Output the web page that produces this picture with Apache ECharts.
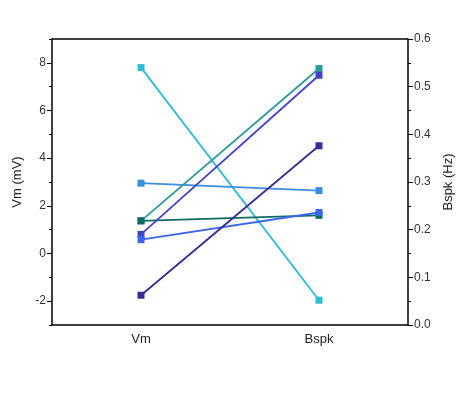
<!DOCTYPE html>
<html><head><meta charset="utf-8">
<script src="https://cdn.jsdelivr.net/npm/echarts@6/dist/echarts.min.js"></script>
<style>html,body{margin:0;padding:0;background:#fff}#c{width:474px;height:395px}</style>
</head><body><div id="c"></div>
<script>
const categories = ['Vm', 'Bspk'];
const vmValues   = [7.8, 2.95, 1.37, 1.37, 0.8, 0.58, -1.75];
const bspkValues = [0.052, 0.282, 0.538, 0.230, 0.524, 0.236, 0.376];
const colors = ['#2cbcd4', '#3a8ee0', '#2a9a9a', '#0f6b62', '#4242cc', '#3a66ee', '#3b2a9a'];
const leftTicks = [-2, 0, 2, 4, 6, 8];
const leftMin = -3, leftMax = 9, rightMin = 0, rightMax = 0.6;

// map a right-axis value onto the left axis scale (axes are aligned)
const toLeft = v => leftMin + (v - rightMin) / (rightMax - rightMin) * (leftMax - leftMin);

const font = 'Liberation Sans, Arial, sans-serif';
const chart = echarts.init(document.getElementById('c'));
chart.setOption({
  animation: false,
  grid: {left: 52, right: 66, top: 39, bottom: 70},
  xAxis: {
    type: 'category', data: categories, boundaryGap: true,
    axisLine: {onZero: false, lineStyle: {color: '#000', width: 1.5}},
    axisTick: {alignWithLabel: true, length: 4, lineStyle: {color: '#000'}},
    axisLabel: {color: '#222', fontSize: 13, fontFamily: font, margin: 8},
    splitLine: {show: false}
  },
  yAxis: [
    {
      type: 'value', min: leftMin, max: leftMax, position: 'left',
      name: 'Vm (mV)', nameLocation: 'middle', nameGap: 28,
      nameTextStyle: {color: '#222', fontSize: 13, fontFamily: font},
      axisLine: {show: true, lineStyle: {color: '#000', width: 1.5}},
      axisTick: {show: true, length: 5, customValues: leftTicks, lineStyle: {color: '#000'}},
      axisLabel: {customValues: leftTicks, color: '#333', fontSize: 12, fontFamily: font, margin: 6},
      splitLine: {show: false}
    },
    {
      type: 'value', min: rightMin, max: rightMax, interval: 0.1, position: 'right',
      name: 'Bspk (Hz)', nameLocation: 'middle', nameGap: 34, nameRotate: 90,
      nameTextStyle: {color: '#222', fontSize: 13, fontFamily: font},
      axisLine: {show: true, lineStyle: {color: '#000', width: 1.5}},
      axisTick: {show: true, length: 5, lineStyle: {color: '#000'}},
      minorTick: {show: true, splitNumber: 2, length: 3, lineStyle: {color: '#000'}},
      axisLabel: {color: '#333', fontSize: 12, fontFamily: font, margin: 6, formatter: v => v.toFixed(1)},
      splitLine: {show: false}, minorSplitLine: {show: false}
    },
    {
      type: 'value', min: leftMin, max: leftMax, interval: 1, position: 'left',
      axisLine: {show: false}, axisLabel: {show: false}, splitLine: {show: false},
      axisTick: {show: true, length: 3, lineStyle: {color: '#000'}}
    }
  ],
  graphic: [{
    type: 'line', shape: {x1: 52, y1: 39, x2: 408, y2: 39},
    style: {stroke: '#000', lineWidth: 1.5}, z: 10
  }],
  series: vmValues.map((v, i) => ({
    type: 'line', yAxisIndex: 0,
    data: [v, toLeft(bspkValues[i])],
    symbol: 'rect', symbolSize: 7,
    lineStyle: {color: colors[i], width: 1.8},
    itemStyle: {color: colors[i]}
  }))
});
</script></body></html>
